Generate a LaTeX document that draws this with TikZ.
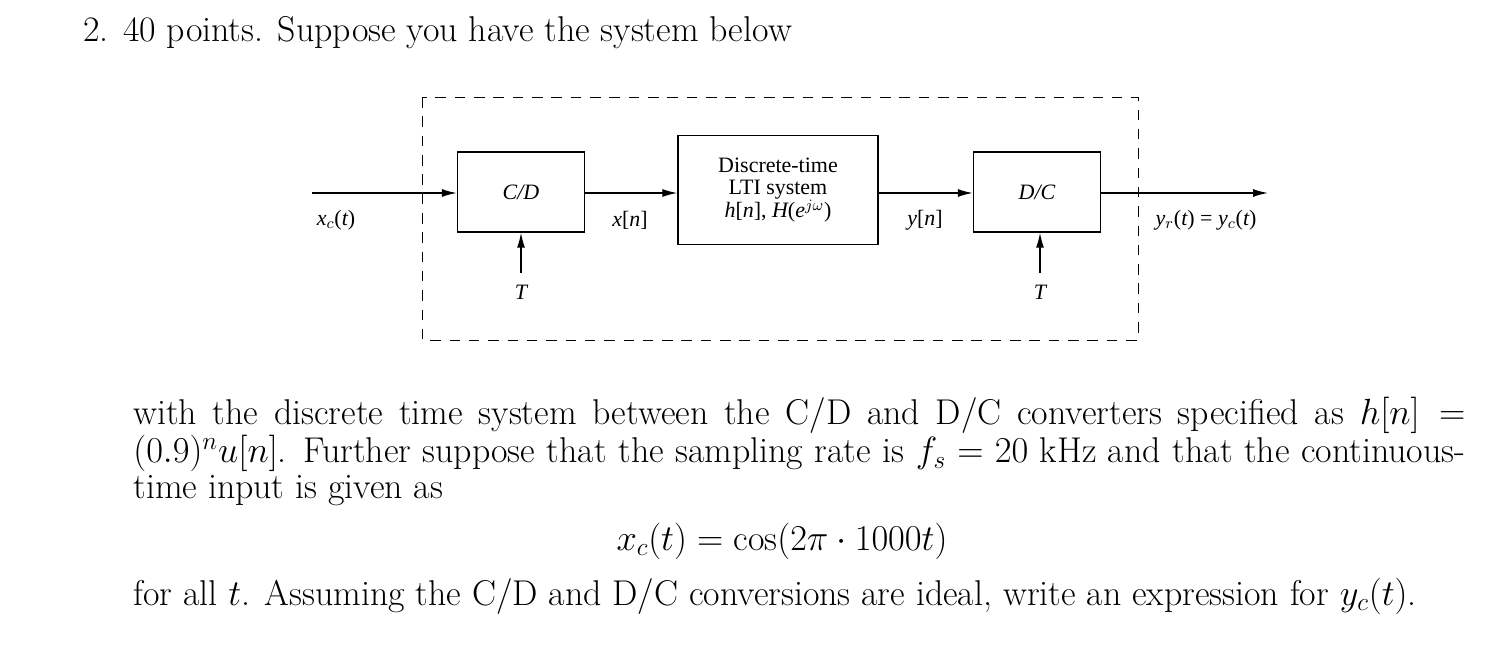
\documentclass[tikz,border=0pt]{standalone}
\usepackage{fontspec}
\newfontfamily\diagfont{Liberation Serif}
\usetikzlibrary{arrows.meta}
\begin{document}
\begin{tikzpicture}
[
x=0.02cm, y=-0.02cm,
block/.style={draw=black, thick, inner sep=0pt, font=\diagfont\fontsize{12.5}{14}\selectfont},
lbl/.style={font=\diagfont\fontsize{12.5}{14}\selectfont},
sig/.style={thick, -{Latex[length=3mm,width=1.6mm]}},
body/.style={font=\fontsize{20.4}{23.3}\selectfont}
]
\useasboundingbox (0,0) rectangle (1512,652);
%Heading
\node[body, anchor=base west, inner sep=0pt] (title) at (83,42) {2. 40 points. Suppose you have the system below};

%Diagram
\draw[dashed, dash pattern=on 6pt off 5pt, thin] (422,97) rectangle (1138,340);
\node[block, minimum width=127*0.02cm, minimum height=80*0.02cm] (cd) at (521,192) {\itshape C/D};
\node[block, minimum width=200*0.02cm, minimum height=109*0.02cm, align=center] (lti) at (778,190)
  {Discrete-time\\[-1pt] LTI system\\[-1pt] \itshape h\upshape[\itshape n\upshape], \itshape H\upshape(\itshape e$^{j\omega}$\upshape)};
\node[block, minimum width=127*0.02cm, minimum height=80*0.02cm] (dc) at (1037,192) {\itshape D/C};
\coordinate (in) at (312,193);
\coordinate (out) at (1268,193);
\node[lbl] (tcd) at (521,292) {\itshape T};
\node[lbl] (tdc) at (1040,292) {\itshape T};
\node[lbl] (xc) at (336,220) {\itshape x$_c$\upshape(\itshape t\upshape)};
\node[lbl] (xn) at (630,220) {\itshape x\upshape[\itshape n\upshape]};
\node[lbl] (yn) at (925,220) {\itshape y\upshape[\itshape n\upshape]};
\node[lbl] (yr) at (1206,220) {\itshape y$_r$\upshape(\itshape t\upshape) = \itshape y$_c$\upshape(\itshape t\upshape)};

\draw[sig] (in) -- (cd.west |- in);
\draw[sig] (cd.east |- in) -- (lti.west |- in);
\draw[sig] (lti.east |- in) -- (dc.west |- in);
\draw[sig] (dc.east |- in) -- (out);
\draw[sig] (tcd.north) ++(0,-6) -- (cd.south);
\draw[sig] (tdc.north) ++(0,-6) -- (dc.south -| tdc);

%Text
\node[body, anchor=north west, text width=1332*0.02cm, align=justify, inner sep=0pt, font=\fontsize{20.4}{20.6}\selectfont] (para) at (133,397)
{with the discrete time system between the C/D and D/C converters specified as $h[n] =$\linebreak
$(0.9)^n u[n]$. Further suppose that the sampling rate is $f_s = 20$ kHz and that the continuous-\linebreak
time input is given as};
\node[body] (eq) at (782,541) {$x_c(t) = \cos(2\pi\cdot 1000t)$};
\node[body, anchor=base west, inner sep=0pt] (last) at (133,605) {for all $t$. Assuming the C/D and D/C conversions are ideal, write an expression for $y_c(t)$.};
\end{tikzpicture}
\end{document}
